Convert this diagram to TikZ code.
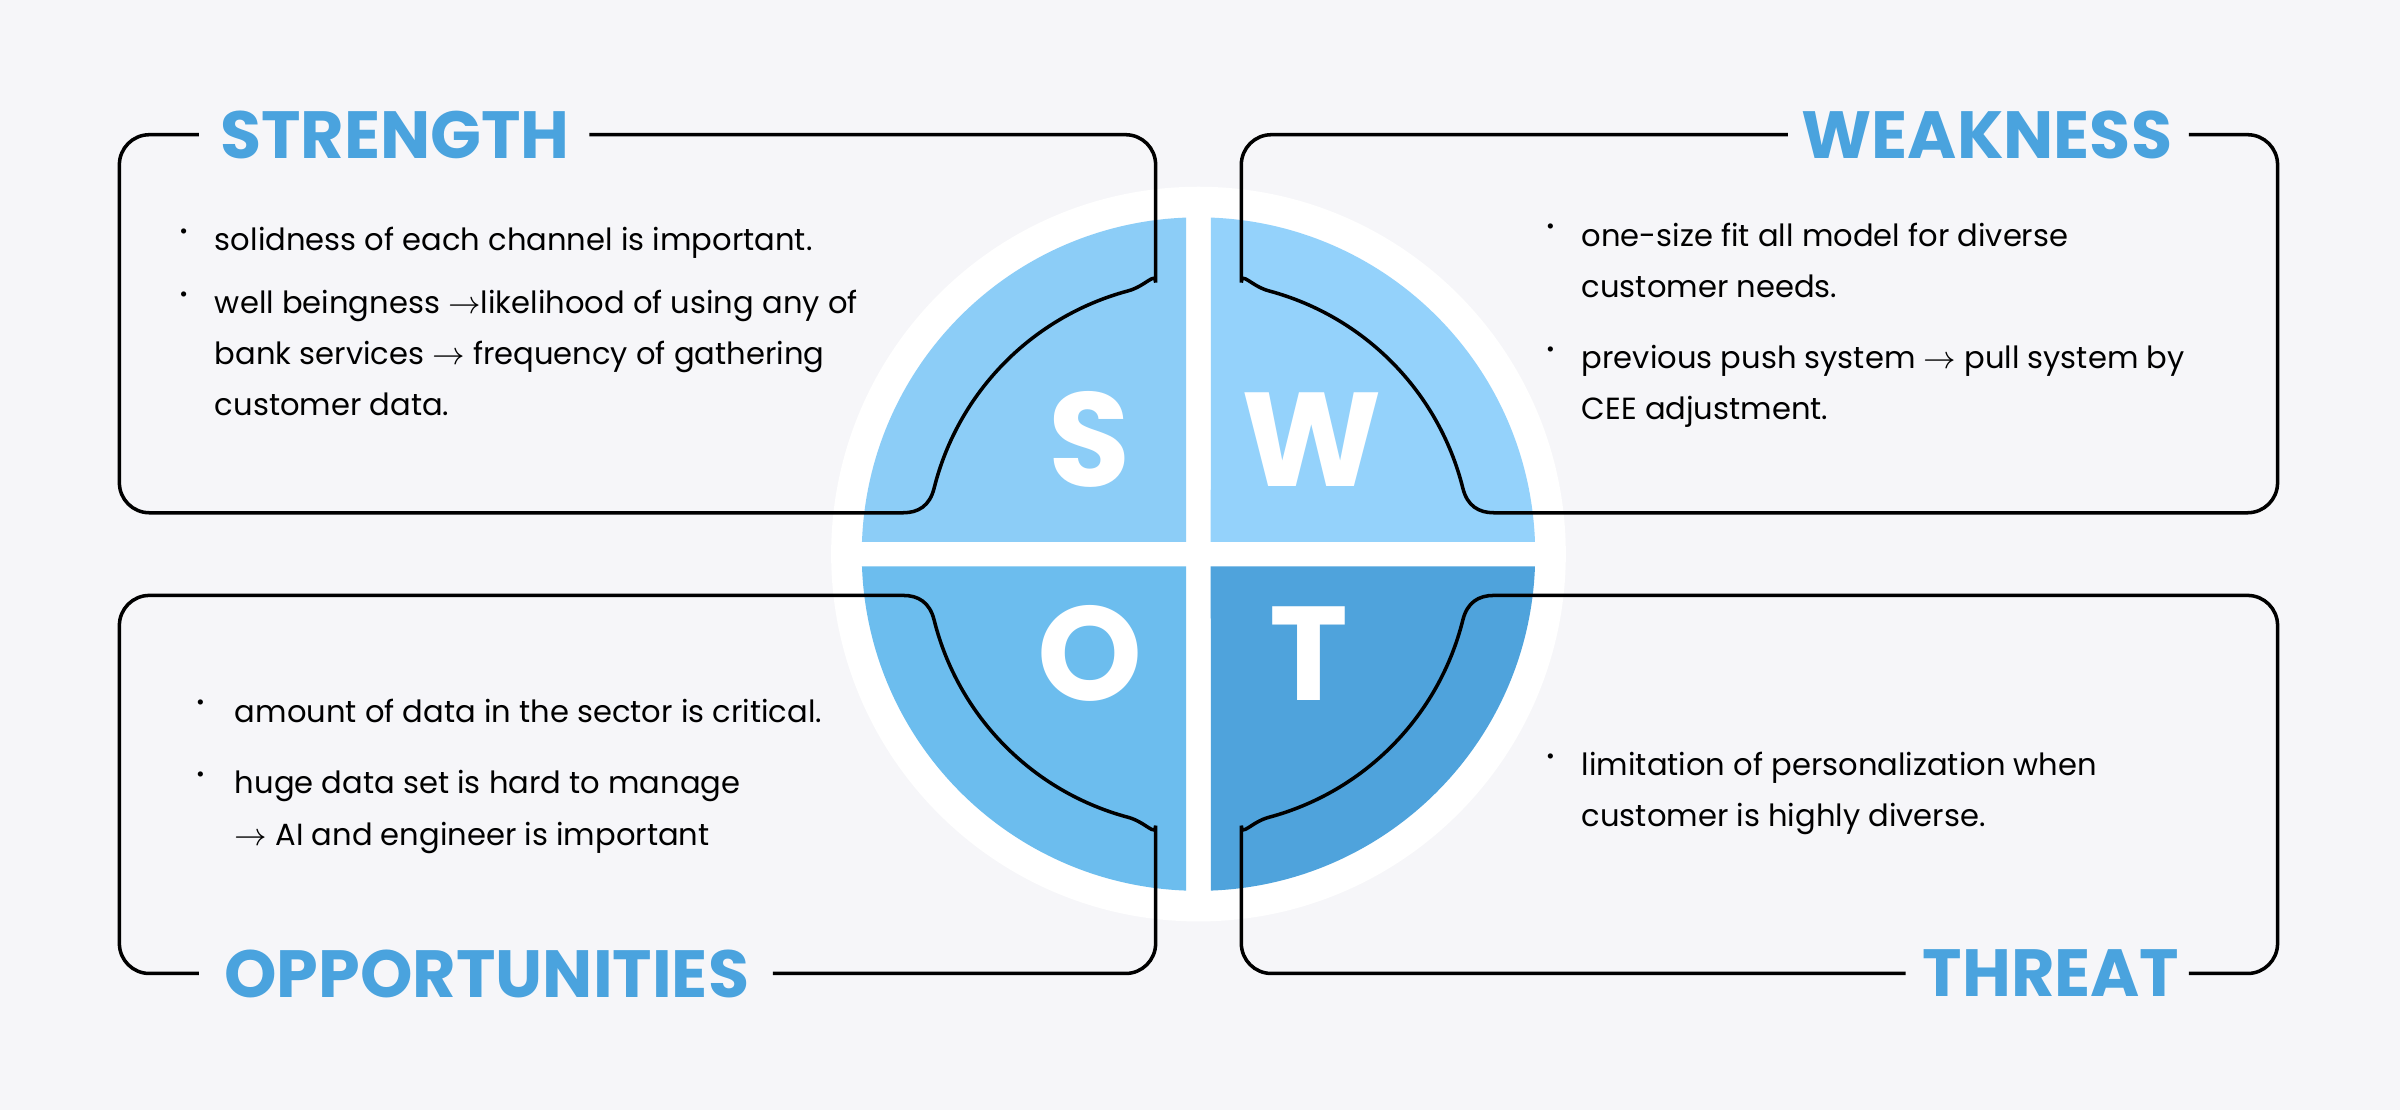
\documentclass[tikz,border=0pt]{standalone}
\usepackage{fontspec}
\setmainfont{Poppins}
\usetikzlibrary{calc}
\definecolor{swotS}{HTML}{8CCDF7}
\definecolor{swotW}{HTML}{94D2FB}
\definecolor{swotO}{HTML}{6CBDEE}
\definecolor{swotT}{HTML}{4FA3DC}
\definecolor{swotTitle}{HTML}{4AA3DE}
\definecolor{swotBg}{HTML}{F6F6F9}
\tikzset{
    box/.style = {draw = black, line width = 1pt},
    title/.style = {text = swotTitle, font = \fontsize{19}{19}\selectfont\bfseries},
    letter/.style = {text = white, font = \fontsize{38}{38}\selectfont\bfseries},
    item/.style = {anchor = north west, align = left, inner sep = 0pt,
        font = \fontsize{8.7}{14.6}\selectfont},
    dot/.style = {anchor = north, inner sep = 0pt, font = \fontsize{6}{14.6}\selectfont}
}
% one framed box, drawn at the top left, mirrored for the other three
\newcommand{\swotbox}[2]{
    \draw [box] (#2, 274) [rounded corners = .3cm] -- (-28, 274) -- (-28, 197)
        [sharp corners] .. controls (-28, 185) and (-34.5, 175) .. (105:178)
        arc [start angle = 105, end angle = 166, radius = 178]
        .. controls (-175.6, 31.5) and (-183, 27) .. (-193, 27)
        [rounded corners = .3cm] -- (-705, 27) -- (-705, 274) -- (#1, 274);
}
\begin{document}
\begin{tikzpicture}[x = 0.01531cm, y = 0.01531cm]
    \fill [swotBg] (0, 0) rectangle (1568, 725);
    \useasboundingbox (0, 0) rectangle (1568, 725);
    \coordinate (c) at (783, 363);
    % circle
    \fill [white] (c) circle [radius = 240];
    \fill [swotS] (775, 371) -- ($(c) + (92.1:220)$) arc [start angle = 92.1, end angle = 177.9, radius = 220] -- cycle;
    \fill [swotW] (791, 371) -- ($(c) + (2.1:220)$) arc [start angle = 2.1, end angle = 87.9, radius = 220] -- cycle;
    \fill [swotO] (775, 355) -- ($(c) + (182.1:220)$) arc [start angle = 182.1, end angle = 267.9, radius = 220] -- cycle;
    \fill [swotT] (791, 355) -- ($(c) + (272.1:220)$) arc [start angle = 272.1, end angle = 357.9, radius = 220] -- cycle;
    \node (s) [letter] at (712, 438) {S};
    \node (w) [letter] at (857, 438) {W};
    \node (o) [letter] at (712, 298) {O};
    \node (t) [letter] at (855, 298) {T};
    % boxes
    \begin{scope}[shift = {(783, 363)}]
        \swotbox{-653}{-398}
    \end{scope}
    \begin{scope}[shift = {(783, 363)}, xscale = -1]
        \swotbox{-647}{-385}
    \end{scope}
    \begin{scope}[shift = {(783, 363)}, yscale = -1]
        \swotbox{-653}{-278}
    \end{scope}
    \begin{scope}[shift = {(783, 363)}, xscale = -1, yscale = -1]
        \swotbox{-647}{-462}
    \end{scope}
    % titles
    \node (strength) [title] at (258, 637) {STRENGTH};
    \node (weakness) [title] at (1298, 637) {WEAKNESS};
    \node (opportunities) [title] at (318, 89) {OPPORTUNITIES};
    \node (threat) [title] at (1340, 89) {THREAT};
    % strength
    \node (s1dot) [dot] at (120, 576) {\textbullet};
    \node (s1) [item] at (140, 577) {solidness of each channel is important.};
    \node (s2dot) [dot] at (120, 535) {\textbullet};
    \node (s2) [item] at (140, 536) {well beingness $\rightarrow$likelihood of using any of\\
        bank services $\rightarrow$ frequency of gathering\\customer data.};
    % weakness
    \node (w1dot) [dot] at (1013, 579) {\textbullet};
    \node (w1) [item] at (1033, 580) {one-size fit all model for diverse\\customer needs.};
    \node (w2dot) [dot] at (1013, 499) {\textbullet};
    \node (w2) [item] at (1033, 500) {previous push system $\rightarrow$ pull system by\\CEE adjustment.};
    % opportunities
    \node (o1dot) [dot] at (131, 268) {\textbullet};
    \node (o1) [item] at (153, 269) {amount of data in the sector is critical.};
    \node (o2dot) [dot] at (131, 221) {\textbullet};
    \node (o2) [item] at (153, 222) {huge data set is hard to manage\\$\rightarrow$ AI and engineer is important};
    % threat
    \node (t1dot) [dot] at (1013, 233) {\textbullet};
    \node (t1) [item] at (1033, 234) {limitation of personalization when\\customer is highly diverse.};
\end{tikzpicture}
\end{document}
